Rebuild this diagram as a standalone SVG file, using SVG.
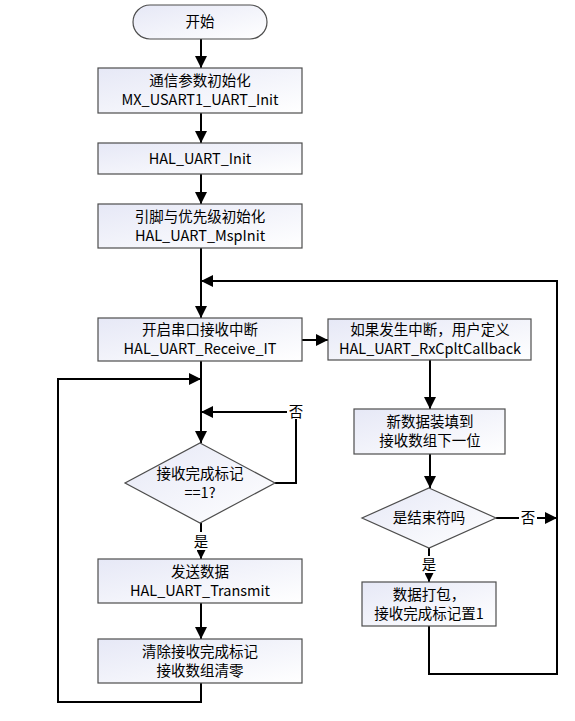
<svg xmlns="http://www.w3.org/2000/svg" width="575" height="721" viewBox="0 0 575 721">
<defs>
<linearGradient id="g" x1="0" y1="0" x2="1" y2="1">
<stop offset="0" stop-color="#e6e8f6"/>
<stop offset="1" stop-color="#ffffff"/>
</linearGradient>
<marker id="a" markerUnits="userSpaceOnUse" markerWidth="12" markerHeight="12" refX="12" refY="6" orient="auto">
<path d="M0,0 L12,6 L0,12 z" fill="#000"/>
</marker>
<marker id="s" markerUnits="userSpaceOnUse" markerWidth="9" markerHeight="9" refX="9" refY="4.5" orient="auto">
<path d="M0,0 L9,4.5 L0,9 z" fill="#000"/>
</marker>
</defs>
<style>
.n{fill:url(#g);stroke:#4d4d4d;stroke-width:1.2}
.t{font-family:"Noto Sans CJK SC","Noto Sans",sans-serif;font-size:14.5px;fill:#000;text-anchor:middle}
.c{fill:none;stroke:#000;stroke-width:2}
</style>
<rect width="575" height="721" fill="#fff"/>
<g id="connectors">
<path class="c" d="M201,39 V68" marker-end="url(#a)"/>
<path class="c" d="M201,113 V143" marker-end="url(#a)"/>
<path class="c" d="M201,174 V204" marker-end="url(#a)"/>
<path class="c" d="M201,248 V318" marker-end="url(#a)"/>
<path class="c" d="M429,626 V674 H557 V281 H201" marker-end="url(#a)"/>
<path class="c" d="M302,340 H328" marker-end="url(#a)"/>
<path class="c" d="M201,683 V702 H58 V379 H201" marker-end="url(#a)"/>
<path class="c" d="M201,361 V443" marker-end="url(#a)"/>
<path class="c" d="M275,483 H296 V419"/>
<path class="c" d="M287,412 H201" marker-end="url(#a)"/>
<path class="c" d="M201,523 V532"/>
<path class="c" d="M201,550 V559" marker-end="url(#s)"/>
<path class="c" d="M201,603 V639" marker-end="url(#a)"/>
<path class="c" d="M430,360 V409" marker-end="url(#a)"/>
<path class="c" d="M430,454 V488" marker-end="url(#a)"/>
<path class="c" d="M496,518 H519"/>
<path class="c" d="M537,518 H557" marker-end="url(#a)"/>
<path class="c" d="M429,548 V556"/>
<path class="c" d="M429,573 V582" marker-end="url(#s)"/>
<text class="t" x="296" y="417">否</text>
<text class="t" x="201" y="547">是</text>
<text class="t" x="528" y="523">否</text>
<text class="t" x="429" y="570">是</text>
</g>
<g id="start">
<rect class="n" x="133" y="5" width="134" height="34" rx="17"/>
<text class="t" x="200" y="27">开始</text>
</g>
<g id="box1">
<rect class="n" x="98" y="68" width="204" height="45"/>
<text class="t" x="200" y="86">通信参数初始化</text>
<text class="t" x="200" y="105">MX_USART1_UART_Init</text>
</g>
<g id="box2">
<rect class="n" x="98" y="143" width="204" height="31"/>
<text class="t" x="200" y="164">HAL_UART_Init</text>
</g>
<g id="box3">
<rect class="n" x="98" y="204" width="204" height="44"/>
<text class="t" x="200" y="221.5">引脚与优先级初始化</text>
<text class="t" x="200" y="240.5">HAL_UART_MspInit</text>
</g>
<g id="box4">
<rect class="n" x="98" y="318" width="204" height="43"/>
<text class="t" x="200" y="335">开启串口接收中断</text>
<text class="t" x="200" y="354">HAL_UART_Receive_IT</text>
</g>
<g id="dec1">
<polygon class="n" points="200,443 275,483 200,523 125,483"/>
<text class="t" x="200" y="478.5">接收完成标记</text>
<text class="t" x="200" y="497.5">==1?</text>
</g>
<g id="box5">
<rect class="n" x="98" y="559" width="204" height="44"/>
<text class="t" x="200" y="576.5">发送数据</text>
<text class="t" x="200" y="595.5">HAL_UART_Transmit</text>
</g>
<g id="box6">
<rect class="n" x="98" y="639" width="204" height="44"/>
<text class="t" x="200" y="656.5">清除接收完成标记</text>
<text class="t" x="200" y="675.5">接收数组清零</text>
</g>
<g id="box7">
<rect class="n" x="328" y="319" width="203" height="41"/>
<text class="t" x="430" y="335">如果发生中断，用户定义</text>
<text class="t" x="430" y="354">HAL_UART_RxCpltCallback</text>
</g>
<g id="box8">
<rect class="n" x="354" y="409" width="151" height="45"/>
<text class="t" x="430" y="427">新数据装填到</text>
<text class="t" x="430" y="446">接收数组下一位</text>
</g>
<g id="dec2">
<polygon class="n" points="429,488 496,518 429,548 362,518"/>
<text class="t" x="429" y="523">是结束符吗</text>
</g>
<g id="box9">
<rect class="n" x="362" y="582" width="134" height="44"/>
<text class="t" x="429" y="599.5">数据打包，</text>
<text class="t" x="429" y="618.5">接收完成标记置1</text>
</g>
</svg>
